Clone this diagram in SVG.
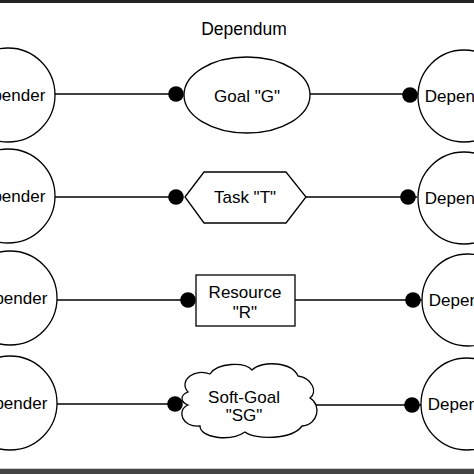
<svg xmlns="http://www.w3.org/2000/svg" width="474" height="474" viewBox="0 0 474 474">
<style>
.sh{fill:#fff;stroke:#000;stroke-width:1.3}
.ln{stroke:#000;stroke-width:1.3;fill:none}
.dot{fill:#000}
text{font-family:"Liberation Sans",Arial,sans-serif;font-size:17px;fill:#000;text-anchor:middle}
</style>
<rect x="0" y="0" width="474" height="474" fill="#fff"/>
<rect x="0" y="0" width="474" height="3" fill="#222"/>
<rect x="0" y="468" width="474" height="1" fill="#ccc"/>
<rect x="0" y="469" width="474" height="5" fill="#444"/>
<text id="title" x="244" y="35" style="font-size:17.5px">Dependum</text>
<g id="connectors">
<line class="ln" x1="55" y1="94" x2="176" y2="94"/>
<line class="ln" x1="310" y1="94" x2="418" y2="94"/>
<circle class="dot" cx="176" cy="94" r="7.8"/>
<circle class="dot" cx="410" cy="95" r="7.8"/>
<line class="ln" x1="54" y1="197" x2="176" y2="197"/>
<line class="ln" x1="306" y1="197" x2="417" y2="197"/>
<circle class="dot" cx="176" cy="197" r="7.8"/>
<circle class="dot" cx="408" cy="197" r="7.8"/>
<line class="ln" x1="57" y1="300" x2="188" y2="300"/>
<line class="ln" x1="295" y1="300" x2="422" y2="300"/>
<circle class="dot" cx="188" cy="300" r="7.8"/>
<circle class="dot" cx="413" cy="300" r="7.8"/>
<line class="ln" x1="57" y1="404" x2="175" y2="404"/>
<line class="ln" x1="316" y1="405" x2="421" y2="405"/>
<circle class="dot" cx="175" cy="404" r="7.8"/>
<circle class="dot" cx="412" cy="405" r="7.8"/>
</g>
<g id="depender1"><circle class="sh" cx="8" cy="95" r="47"/><text x="8" y="101">Depender</text></g>
<g id="dependee1"><circle class="sh" cx="464" cy="96" r="46"/><text x="464" y="102">Dependee</text></g>
<g id="goal"><ellipse class="sh" cx="247" cy="95" rx="63" ry="38"/><text x="247" y="102">Goal "G"</text></g>
<g id="depender2"><circle class="sh" cx="8" cy="196" r="47"/><text x="8" y="202">Depender</text></g>
<g id="dependee2"><circle class="sh" cx="464" cy="198" r="46"/><text x="464" y="204">Dependee</text></g>
<g id="task"><polygon class="sh" points="185,197 204,172 286,172 306,197 286,223 204,223"/><text x="245" y="203">Task "T"</text></g>
<g id="depender3"><circle class="sh" cx="10" cy="298" r="47"/><text x="10" y="304">Depender</text></g>
<g id="dependee3"><circle class="sh" cx="468" cy="300" r="46"/><text x="468" y="306">Dependee</text></g>
<g id="resource"><rect class="sh" x="196" y="275" width="99" height="51"/><text x="245" y="298">Resource</text><text x="245" y="318">"R"</text></g>
<g id="depender4"><circle class="sh" cx="10" cy="403" r="47"/><text x="10" y="409">Depender</text></g>
<g id="dependee4"><circle class="sh" cx="467" cy="404" r="46"/><text x="467" y="410">Dependee</text></g>
<g id="softgoal"><path class="sh" d="M188,392 C178,380 195,368 210,374 C218,362 245,362 252,370 C262,360 292,362 298,376 C312,378 318,392 310,398 C322,405 318,425 302,426 C292,440 255,440 245,432 C230,442 200,438 200,426 C182,428 176,410 188,405 C180,402 180,395 188,392 Z"/><text x="244" y="403">Soft-Goal</text><text x="244" y="421">"SG"</text></g>
</svg>
